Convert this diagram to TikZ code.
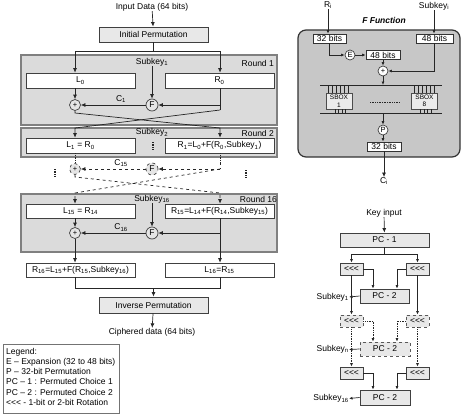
\documentclass[tikz,border=0pt]{standalone}
\usepackage{fontspec}
\setmainfont{Liberation Sans}
\usetikzlibrary{arrows.meta}
\newcommand{\sub}[1]{\textsubscript{#1}}
\begin{document}
\begin{tikzpicture}[x=1pt,y=-1pt,
  every node/.style={font=\fontsize{8.5}{10}\selectfont, inner sep=0pt},
  ln/.style={draw=black!85, line width=0.7pt},
  arr/.style={ln, -{Latex[length=4.5pt,width=4pt]}},
  sarr/.style={ln, -{Latex[length=3.5pt,width=3pt]}},
  darr/.style={arr, dashed},
  dotl/.style={ln, densely dotted},
  dotarr/.style={sarr, densely dotted},
  roundbox/.style={draw=black!50, fill=black!14, line width=1.2pt, minimum width=256pt},
  wbox/.style={draw=black!75, fill=white, line width=0.7pt, minimum width=109pt, minimum height=15pt},
  gbox/.style={draw=black!75, fill=black!9, line width=0.8pt},
  circ/.style={circle, draw=black!75, fill=black!10, line width=0.7pt, minimum size=11pt, font=\fontsize{7.5}{8}\selectfont},
  dcirc/.style={circ, dashed},
  kbox/.style={draw=black!75, fill=black!9, line width=0.8pt, minimum height=12pt},
  dkbox/.style={kbox, dashed, draw=black!65},
  small/.style={font=\fontsize{7.5}{8}\selectfont},
]
\useasboundingbox (0,0) rectangle (474,418);
% column references
\coordinate (xL) at (75,0);
\coordinate (xM) at (152,0);
\coordinate (xR) at (220,0);

% ---------------- main DES flow ----------------
\node (in) at (152,7) {Input Data (64 bits)};
\node[gbox, minimum width=109pt, minimum height=15pt] (IP) at (153.5,34.5) {Initial Permutation};
\draw[arr] (in) -- (IP);

% Round 1
\node[roundbox, minimum height=70pt] (R1b) at (149,90) {};
\node (sk1) at (152,62) {Subkey\sub{1}};
\node[anchor=east] (rd1) at (274,63) {Round 1};
\node[wbox] (L0) at (80.5,80.5) {L\sub{0}};
\node[wbox] (R0) at (219.5,80.5) {R\sub{0}};
\node[circ] (x1) at (75,105) {+};
\node[circ, minimum size=12pt, font=\fontsize{8.5}{9}\selectfont] (F1) at (152,105) {F};
\node (c1) at (121,99) {C\sub{1}};
\coordinate (j0) at (153.5,51);
\draw[ln] (IP.south) -- (j0);
\draw[arr] (j0) -| (L0.north -| xL);
\draw[arr] (j0) -| (R0.north -| xR);
\draw[arr] (L0.south -| xL) -- (x1);
\draw[arr] (sk1) -- (F1);
\coordinate (r1a) at (220,105);
\coordinate (r1b) at (220,110);
\draw[ln] (R0.south -| xR) -- (r1b);
\draw[arr] (r1a) -- (F1);
\draw[arr] (F1) -- (x1);

% Round 2
\node[roundbox, minimum height=29pt] (R2b) at (149,142.5) {};
\node (sk2) at (152,132.5) {Subkey\sub{2}};
\node[anchor=east] (rd2) at (274,133) {Round 2};
\node[wbox] (L1) at (80.5,145.5) {L\sub{1} = R\sub{0}};
\node[wbox] (R1) at (219.5,145.5) {R\sub{1}=L\sub{0}+F(R\sub{0},Subkey\sub{1})};
\draw[dotl, line width=1.3pt] (153,142) -- (153,150);
% crossing 1
\coordinate (c1a) at (75,113);
\coordinate (c1b) at (220,128);
\coordinate (c1c) at (75,128);
\draw[arr] (x1) -- (c1a) -- (c1b) -- (R1.north -| xR);
\draw[arr] (r1b) -- (c1c) -- (L1.north -| xL);

% Round 15 (dashed)
\node[dcirc] (x15) at (75,169) {+};
\node[dcirc, minimum size=12pt, font=\fontsize{8.5}{9}\selectfont] (F15) at (152,169) {F};
\node (c15) at (121,163) {C\sub{15}};
\draw[dotl] (L1.south -| xL) -- (x15);
\coordinate (r15a) at (220,169);
\draw[dotl] (R1.south -| xR) -- (220,162);
\draw[ln, dashed] (220,162) -- (r15a);
\draw[darr] (r15a) -- (F15);
\draw[darr] (F15) -- (x15);
\draw[dotl, line width=1.3pt] (55,169) -- (55,177);
\draw[dotl, line width=1.3pt] (246,170) -- (246,178);

% Round 16
\node[roundbox, minimum height=58pt] (R16b) at (149,223) {};
\node (sk16) at (152,199) {Subkey\sub{16}};
\node[anchor=east] (rd16) at (277,199.5) {Round 16};
\node[wbox, minimum height=14pt] (L15) at (80.5,211) {L\sub{15} = R\sub{14}};
\node[wbox, minimum height=14pt] (R15) at (219.5,211) {R\sub{15}=L\sub{14}+F(R\sub{14},Subkey\sub{15})};
% crossing 2
\coordinate (c2a) at (75,177);
\coordinate (c2b) at (220,193);
\coordinate (c2c) at (75,193);
\draw[darr] (x15) -- (c2a) -- (c2b) -- (R15.north -| xR);
\draw[darr] (r15a) -- (c2c) -- (L15.north -| xL);

\node[circ] (x16) at (75,233) {+};
\node[circ, minimum size=12pt, font=\fontsize{8.5}{9}\selectfont] (F16) at (152,233) {F};
\node (c16) at (121,227.5) {C\sub{16}};
\draw[arr] (L15.south -| xL) -- (x16);
\draw[arr] (sk16) -- (F16);
\coordinate (r16a) at (220,233);
\draw[arr] (r16a) -- (F16);
\draw[arr] (F16) -- (x16);

\node[wbox, minimum height=14pt] (R16) at (80.5,270) {R\sub{16}=L\sub{15}+F(R\sub{15},Subkey\sub{16})};
\node[wbox, minimum height=14pt] (L16) at (219.5,270) {L\sub{16}=R\sub{15}};
\draw[arr] (x16) -- (R16.north -| xL);
\draw[arr] (R15.south -| xR) -- (L16.north -| xR);

\node[gbox, minimum width=109pt, minimum height=16pt] (IIP) at (153.5,305) {Inverse Permutation};
\coordinate (b1) at (75,288);
\coordinate (b2) at (220,288);
\coordinate (b3) at (153.5,288);
\draw[ln] (R16.south -| xL) -- (b1) -- (b2) -- (L16.south -| xR);
\draw[arr] (b3) -- (IIP);
\node (out) at (152,332) {Ciphered data (64 bits)};
\draw[arr] (IIP) -- (out);

% Legend
\node[draw=black!55, fill=white, line width=0.9pt, anchor=north west, minimum width=116pt, minimum height=69pt] (leg) at (3,344) {};
\node[anchor=north west, align=left, font=\fontsize{8.5}{10.2}\selectfont] (legt) at (6,348)
  {Legend:\\E -- Expansion (32 to 48 bits)\\P -- 32-bit Permutation\\PC -- 1 : Permuted Choice 1\\PC -- 2 : Permuted Choice 2\\<{}<{}< - 1-bit or 2-bit Rotation};

% ---------------- F function ----------------
\node (Ri) at (328,5) {R\sub{i}};
\node (ski) at (434,6) {Subkey\sub{i}};
\node[font=\fontsize{8.5}{10}\selectfont\bfseries\itshape] (ftitle) at (384,20) {F Function};
\node[draw=black!80, fill=black!22, line width=1.2pt, rounded corners=8pt, minimum width=162pt, minimum height=127pt] (Fb) at (379,93.5) {};
\node[draw=black!80, fill=white, line width=0.7pt, minimum width=33pt, minimum height=9pt] (b32) at (329.5,38.5) {32 bits};
\node[draw=black!80, fill=white, line width=0.7pt, minimum width=37pt, minimum height=9pt] (b48r) at (434.5,38.5) {48 bits};
\node[circ, fill=white, minimum size=10pt] (E) at (350,55) {E};
\node[draw=black!80, fill=white, line width=0.7pt, minimum width=34pt, minimum height=9pt] (b48m) at (383,55) {48 bits};
\draw[sarr] (Ri) -- (b32.north -| Ri);
\draw[sarr] (ski) -- (b48r.north -| ski);
\draw[sarr] (b32.south) |- (E);
\draw[sarr] (E) -- (b48m);
\node[circ, fill=white, minimum size=10pt] (xF) at (383,71) {+};
\draw[sarr] (b48m) -- (xF);
\draw[sarr] (b48r.south) |- (xF);
\coordinate (busT) at (383,85);
\draw[sarr] (xF) -- (busT);
\draw[ln] (320,85) -- (442,85);
\draw[ln] (320,113) -- (442,113);
\node[draw=black!70, fill=black!8, line width=0.7pt, minimum width=26pt, minimum height=16pt, align=center, font=\fontsize{6.5}{7.5}\selectfont] (S1) at (339,101) {SBOX\\1};
\node[draw=black!70, fill=black!8, line width=0.7pt, minimum width=26pt, minimum height=16pt, align=center, font=\fontsize{6.5}{7.5}\selectfont] (S8) at (424.5,101) {SBOX\\8};
\foreach \x in {328.5,332.5,336.5,340.5,344.5,348.5} \draw[ln, line width=0.5pt] (\x,85) -- (\x,93);
\foreach \x in {414,418,422,426,430,434} \draw[ln, line width=0.5pt] (\x,85) -- (\x,93);
\foreach \x in {335,338.5,342,345.5} \draw[ln, line width=0.5pt] (\x,109) -- (\x,113);
\foreach \x in {420.5,424,427.5,431} \draw[ln, line width=0.5pt] (\x,109) -- (\x,113);
\draw[ln, densely dotted] (370,102) -- (399,102);
\node[circ, fill=white, minimum size=10pt] (P) at (383,130) {P};
\coordinate (busB) at (383,113);
\draw[sarr] (busB) -- (P);
\node[draw=black!80, fill=white, line width=0.7pt, minimum width=34pt, minimum height=9pt] (b32o) at (384,146.5) {32 bits};
\draw[sarr] (P) -- (b32o.north -| P);
\node (Ci) at (384,181) {C\sub{i}};
\draw[arr] (b32o) -- (Ci);

% ---------------- Key schedule ----------------
\node (kin) at (384,213) {Key input};
\node[kbox, minimum width=89pt, minimum height=14pt] (PC1) at (384.5,240) {PC - 1};
\draw[arr] (kin) -- (PC1);
\node[kbox, minimum width=23pt] (rL1) at (351.5,269) {<{}<{}<};
\node[kbox, minimum width=23pt] (rR1) at (417.5,269) {<{}<{}<};
\coordinate (kj) at (384.5,254);
\draw[ln] (PC1.south) -- (kj);
\draw[sarr] (kj) -| (rL1.north);
\draw[sarr] (kj) -| (rR1.north);
\node[kbox, minimum width=49pt, minimum height=14pt] (PC2a) at (384.5,296) {PC - 2};
\draw[sarr] (rL1.east) -| (PC2a.north -| 373,0);
\draw[sarr] (rR1.west) -| (PC2a.north -| 397,0);
\node[anchor=east] (sk1k) at (349,297) {Subkey\sub{1}};
\draw[sarr] (PC2a.west) -- (sk1k.east);

\node[dkbox, minimum width=23pt] (rL2) at (351.5,321) {<{}<{}<};
\node[dkbox, minimum width=23pt] (rR2) at (417.5,321) {<{}<{}<};
\draw[sarr] (rL1.south) -- (rL2.north);
\draw[sarr] (rR1.south) -- (rR2.north);
\node[dkbox, minimum width=50pt, minimum height=14pt] (PC2b) at (385,349) {PC - 2};
\draw[dotarr] (rL2.east) -| (PC2b.north -| 373,0);
\draw[dotarr] (rR2.west) -| (PC2b.north -| 397,0);
\node[anchor=east] (sknk) at (349,349.5) {Subkey\sub{n}};
\draw[sarr] (PC2b.west) -- (sknk.east);

\node[kbox, minimum width=23pt] (rL3) at (351.5,373) {<{}<{}<};
\node[kbox, minimum width=23pt] (rR3) at (417.5,373) {<{}<{}<};
\draw[dotarr] (rL2.south) -- (rL3.north);
\draw[dotarr] (rR2.south) -- (rR3.north);
\node[kbox, minimum width=50pt, minimum height=15pt] (PC2c) at (385,397.5) {PC - 2};
\draw[sarr] (rL3.east) -| (PC2c.north -| 373,0);
\draw[sarr] (rR3.west) -| (PC2c.north -| 397,0);
\node[anchor=east] (sk16k) at (349,398.5) {Subkey\sub{16}};
\draw[sarr] (PC2c.west) -- (sk16k.east);
\end{tikzpicture}
\end{document}
